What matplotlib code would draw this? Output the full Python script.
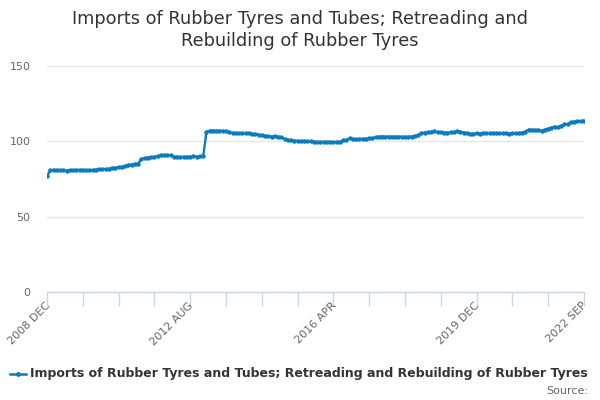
import matplotlib
matplotlib.use("Agg")
import matplotlib.pyplot as plt
import numpy as np

title = "Imports of Rubber Tyres and Tubes; Retreading and\nRebuilding of Rubber Tyres"
series_name = "Imports of Rubber Tyres and Tubes; Retreading and Rebuilding of Rubber Tyres"

values = [
    76.8,
    80.8, 81.0, 81.0, 80.8, 80.7, 80.6,
    80.7, 80.8, 81.0, 81.0, 80.9, 80.8,
    80.8, 81.0, 81.2, 81.4, 81.4, 81.5,
    81.8, 82.2, 82.5, 82.8, 83.1, 83.5,
    84.2, 84.6, 85.0, 85.1,
    88.3,
    88.8, 89.2, 89.5, 89.5, 90.2, 90.6,
    90.8, 90.9, 90.7, 89.6,
    89.8, 89.5, 89.7, 89.6, 89.8, 90.0, 89.9, 90.1, 90.0,
    106.3,
    107.0, 107.1, 107.0, 107.0, 106.9, 106.6,
    106.0, 105.6, 105.5, 105.4, 105.3, 105.3, 105.2, 105.0,
    104.8, 104.4, 104.0, 103.6,
    103.3, 103.2, 103.3, 103.2, 102.6,
    101.6, 101.0, 100.6, 100.4,
    100.2, 100.0, 100.0, 100.1, 99.9, 99.8,
    99.5, 99.6, 99.6, 99.7, 99.6, 99.5, 99.6, 99.6,
    100.6, 100.9, 102.0,
    101.6, 101.3, 101.5, 101.7, 101.6,
    102.0, 102.2, 102.6,
    103.1, 103.2, 103.0, 103.2, 103.1, 103.0, 103.1, 103.0, 102.9,
    103.0, 103.2, 103.6, 104.0,
    105.4, 105.8, 106.0,
    106.2, 106.6, 106.2, 106.0,
    105.8, 105.8, 105.9, 106.2,
    106.8, 106.4, 105.8,
    105.4, 105.0, 105.0, 105.2, 105.1,
    105.5, 105.4, 105.3, 105.2, 105.3, 105.2, 105.3, 105.2, 105.1, 105.2, 105.3, 105.4, 105.8,
    106.5, 107.8,
    107.6, 107.5, 107.6, 107.0,
    107.8, 108.4, 109.0, 109.8,
    109.2, 110.3, 111.2, 111.4,
    112.5, 113.1, 113.3, 113.3, 113.8,
]

tick_step = 11
label_positions = [0, 44, 88, 132, 165]
label_texts = ["2008 DEC", "2012 AUG", "2016 APR", "2019 DEC", "2022 SEP"]
y_ticks = [0, 50, 100, 150]

x = np.arange(len(values))
n_last = len(values) - 1

fig = plt.figure(figsize=(6, 4), dpi=100)
ax = fig.add_axes([47/600, 1-292/400, (584-47)/600, (292-66)/400])

line_color = "#0b7bc1"
ax.plot(x, values, color=line_color, lw=1.7, marker="o", markersize=3.2,
        markeredgewidth=0, zorder=3)

ax.set_xlim(0, n_last)
ax.set_ylim(0, 150)

ax.set_yticks(y_ticks)
ax.set_yticklabels([str(v) for v in y_ticks], color="#666666", fontsize=8)
ax.yaxis.grid(True, color="#e6e6e6", lw=1)
ax.set_axisbelow(True)
ax.tick_params(axis="y", length=0, pad=12)

minor = list(range(0, n_last + 1, tick_step))
ax.set_xticks(minor)
ax.set_xticklabels([""] * len(minor))
ax.tick_params(axis="x", length=10, width=1, color="#ccd6eb", direction="out")

for p, t in zip(label_positions, label_texts):
    ax.annotate(t, xy=(p, 0), xycoords=("data", "axes fraction"),
                xytext=(-1.5, -6), textcoords="offset points",
                rotation=45, ha="right", va="top", fontsize=8,
                color="#666666", rotation_mode="anchor")

for s in ["top", "right", "left"]:
    ax.spines[s].set_visible(False)
ax.spines["bottom"].set_color("#ccd6eb")
ax.spines["bottom"].set_linewidth(1)

fig.text(0.5, 1-30/400, title, ha="center", va="center", fontsize=12.8,
         color="#333333", linespacing=1.25)

# legend
fig.lines.append(matplotlib.lines.Line2D([10/600, 26/600], [1-374/400, 1-374/400],
                 transform=fig.transFigure, color=line_color, lw=1.8))
fig.lines.append(matplotlib.lines.Line2D([18/600], [1-374/400], transform=fig.transFigure,
                 color=line_color, marker="o", markersize=3.5, markeredgewidth=0))
fig.text(30/600, 1-374/400, series_name, ha="left", va="center", fontsize=9,
         fontweight="bold", color="#333333")
fig.text(588/600, 1-391/400, "Source:", ha="right", va="center", fontsize=8,
         color="#666666")

fig.savefig("out.png", dpi=100)
